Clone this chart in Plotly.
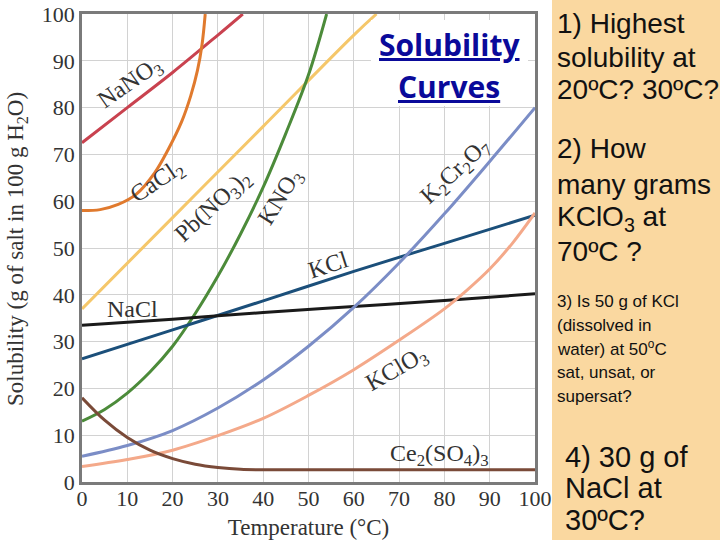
import plotly.graph_objects as go

# ---------------- data ----------------
T_NaNO3 = [0, 10, 20, 30, 35.5]
S_NaNO3 = [72.5, 80, 87.5, 95.5, 100]

T_CaCl2 = [0, 4, 8, 12, 16, 19, 22, 24, 25.5, 26.5, 27.2]
S_CaCl2 = [58, 58.2, 59.3, 61.5, 66, 71, 77, 82.5, 88, 93.5, 100]

T_PbNO3 = [0, 20, 40, 60, 65]
S_PbNO3 = [37, 56.5, 76, 95.5, 100]

T_KNO3 = [0, 5, 10, 15, 20, 25, 30, 35, 40, 45, 50, 54]
S_KNO3 = [13, 15.5, 19, 23.5, 29, 36, 44, 53, 63, 74.5, 87, 100]

T_KCl = [0, 20, 40, 60, 80, 100]
S_KCl = [26.3, 32.5, 38.7, 45, 51, 57]

T_NaCl = [0, 20, 40, 60, 80, 100]
S_NaCl = [33.5, 34.8, 36.2, 37.5, 38.8, 40.2]

T_K2Cr2O7 = [0, 10, 20, 30, 40, 50, 60, 70, 80, 90, 100]
S_K2Cr2O7 = [5.5, 7.8, 11, 15.8, 21.8, 29, 37.3, 46.8, 57.3, 68.5, 80]

T_KClO3 = [0, 10, 20, 30, 40, 50, 60, 70, 80, 85, 90, 95, 100]
S_KClO3 = [3.3, 4.8, 6.8, 9.9, 13.6, 18.5, 24, 30.3, 37, 41, 45.5, 51, 57.5]

T_Ce2SO4 = [0, 5, 10, 15, 20, 25, 30, 35, 40, 100]
S_Ce2SO4 = [18, 13.2, 9.5, 6.8, 5, 3.8, 3.1, 2.7, 2.6, 2.6]

x_ticks = [0, 10, 20, 30, 40, 50, 60, 70, 80, 90, 100]
y_ticks = [0, 10, 20, 30, 40, 50, 60, 70, 80, 90, 100]

series = [
    ("NaNO3", T_NaNO3, S_NaNO3, "#C9424F"),
    ("CaCl2", T_CaCl2, S_CaCl2, "#E07A2E"),
    ("Pb(NO3)2", T_PbNO3, S_PbNO3, "#F5C76A"),
    ("KNO3", T_KNO3, S_KNO3, "#4C8B3A"),
    ("KCl", T_KCl, S_KCl, "#1B4F7A"),
    ("NaCl", T_NaCl, S_NaCl, "#1A1A1A"),
    ("K2Cr2O7", T_K2Cr2O7, S_K2Cr2O7, "#7B8DC6"),
    ("KClO3", T_KClO3, S_KClO3, "#F4A98A"),
    ("Ce2(SO4)3", T_Ce2SO4, S_Ce2SO4, "#7A4A38"),
]

# curve labels: text, T, S, angle
labels = [
    ("NaNO<sub>3</sub>", 10.6, 85, -35),
    ("CaCl<sub>2</sub>", 16.8, 64, -34),
    ("Pb(NO<sub>3</sub>)<sub>2</sub>", 29, 58.8, -43),
    ("KNO<sub>3</sub>", 43.9, 60.7, -58),
    ("K<sub>2</sub>Cr<sub>2</sub>O<sub>7</sub>", 82.5, 66.2, -43),
    ("KCl", 54.2, 46.4, -18),
    ("NaCl", 11.2, 37, 0),
    ("KClO<sub>3</sub>", 69.5, 24, -30),
    ("Ce<sub>2</sub>(SO<sub>4</sub>)<sub>3</sub>", 79, 5.8, 0),
]

# ---------------- figure ----------------
W, H = 720, 540
ML, MR, MT, MB = 82, 185, 14, 58
PW, PH = W - ML - MR, H - MT - MB


def px_x(px):
    return (px - ML) / PW


def px_y(py):
    return (H - MB - py) / PH


fig = go.Figure()
for name, t, s, c in series:
    fig.add_trace(go.Scatter(x=t, y=s, mode="lines", name=name,
                             line=dict(color=c, width=3, shape="spline", smoothing=1.0),
                             hoverinfo="skip"))

serif = "Liberation Serif, Times New Roman, serif"
sans = "Liberation Sans, Arial, sans-serif"

annotations = []
for txt, t, s, ang in labels:
    annotations.append(dict(x=t, y=s, xref="x", yref="y", text=txt, showarrow=False,
                            textangle=ang, font=dict(family=serif, size=24, color="#333333")))

# y axis title
annotations.append(dict(x=px_x(17), y=px_y(249), xref="paper", yref="paper",
                        xanchor="center", yanchor="middle", textangle=-90,
                        text="Solubility (g of salt in 100 g H<sub>2</sub>O)", showarrow=False,
                        font=dict(family=serif, size=23, color="#333333")))

# title (white box behind)
for txt, py in [("<b><u>Solubility</u></b>", 44), ("<b><u>Curves</u></b>", 86)]:
    annotations.append(dict(x=px_x(449), y=px_y(py), xref="paper", yref="paper",
                            xanchor="center", yanchor="middle",
                            text=txt, showarrow=False,
                            font=dict(family="Open Sans, sans-serif", size=30, color="#0A0A9A")))

# right panel text
panel_lines = [
    ("1) Highest", 555, 23, 28),
    ("solubility at", 555, 57, 28),
    ("20ºC? 30ºC?", 555, 90, 28),
    ("2) How", 555, 148, 28),
    ("many grams", 555, 184, 28),
    ("KClO<sub>3</sub> at", 555, 218, 28),
    ("70ºC ?", 555, 251, 28),
    ("3) Is 50 g of KCl", 555, 301, 17),
    ("(dissolved in", 555, 325, 17),
    ("water) at 50<sup>o</sup>C", 555, 348, 17),
    ("sat, unsat, or", 555, 372, 17),
    ("supersat?", 555, 396, 17),
    ("4) 30 g of", 563, 457, 29),
    ("NaCl at", 563, 488, 29),
    ("30ºC?", 563, 520, 29),
]
for txt, px, py, sz in panel_lines:
    annotations.append(dict(x=px_x(px), y=px_y(py), xref="paper", yref="paper",
                            xanchor="left", yanchor="middle", text=txt, showarrow=False,
                            font=dict(family=sans, size=sz, color="#111111")))

shapes = [
    dict(type="rect", xref="paper", yref="paper", x0=px_x(552), x1=px_x(720),
         y0=px_y(540), y1=px_y(0), fillcolor="#FAD8A0", line=dict(width=0), layer="below"),
    dict(type="rect", xref="paper", yref="paper", x0=px_x(371), x1=px_x(528),
         y0=px_y(106), y1=px_y(20), fillcolor="white", line=dict(width=0), layer="above"),
]

axis_common = dict(range=[0, 100], showgrid=True, gridcolor="#D2D2D2", gridwidth=1.2,
                   showline=True, linecolor="#7A7A7A", linewidth=2.5, mirror=True,
                   zeroline=False, ticks="", tickfont=dict(family=serif, size=22, color="#333333"),
                   fixedrange=True)

fig.update_layout(
    width=W, height=H,
    margin=dict(l=ML, r=MR, t=MT, b=MB, autoexpand=False),
    paper_bgcolor="white", plot_bgcolor="white",
    showlegend=False,
    xaxis=dict(**axis_common, tickvals=x_ticks, ticktext=[str(v) for v in x_ticks],
               ticklabelstandoff=-5,
               title=dict(text="Temperature (°C)", standoff=10,
                          font=dict(family=serif, size=23, color="#333333"))),
    yaxis=dict(**axis_common, tickvals=y_ticks, ticktext=[str(v) for v in y_ticks]),
    annotations=annotations,
    shapes=shapes,
)

fig.write_html("out.html")
